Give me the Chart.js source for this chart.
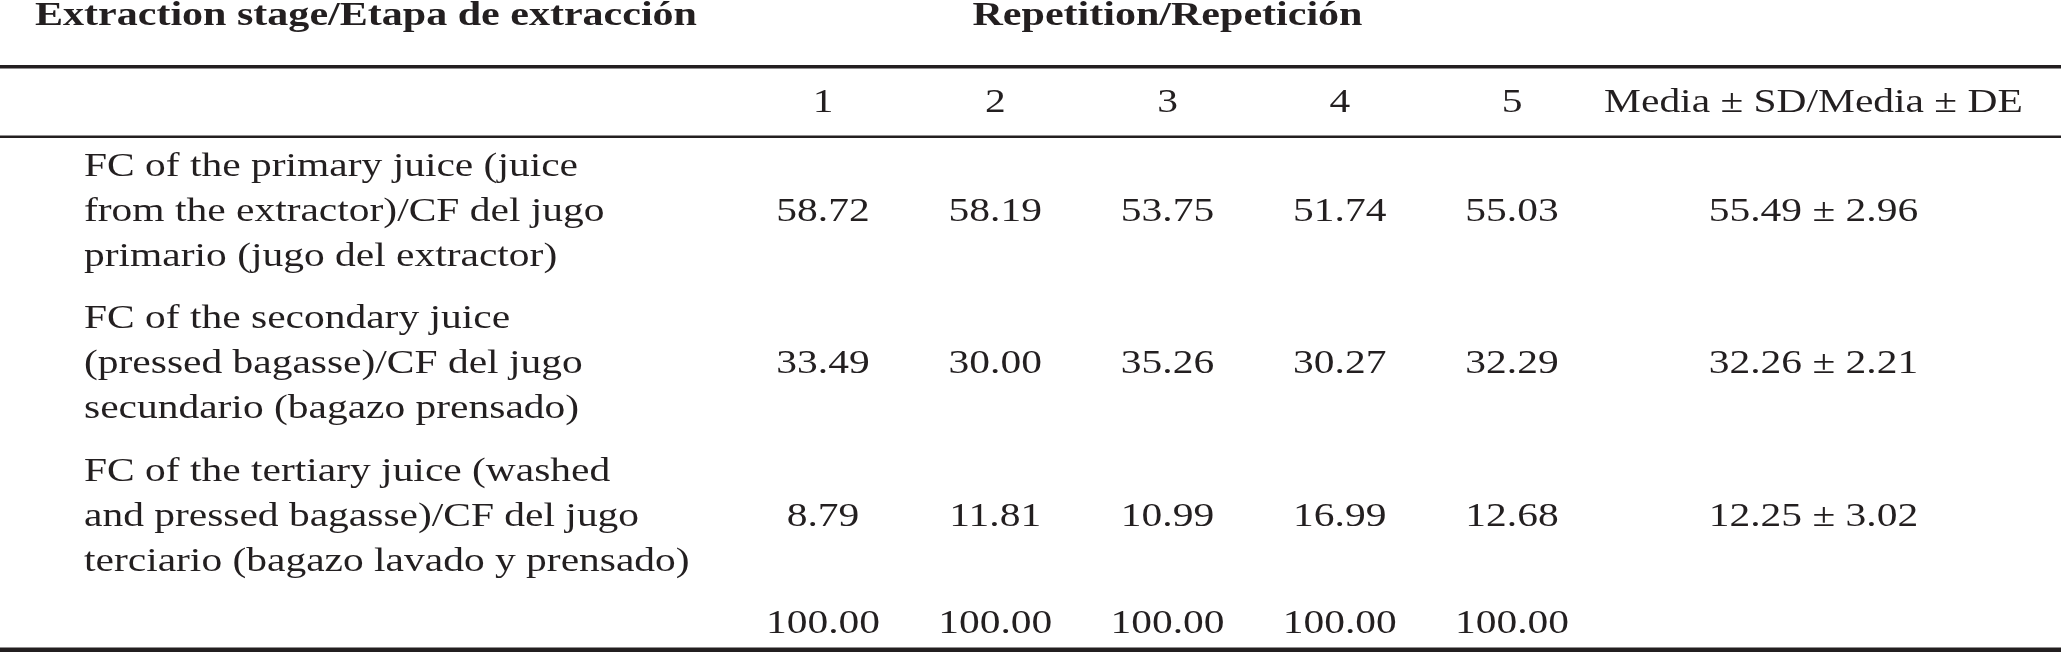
<!DOCTYPE html>
<html><head><meta charset="utf-8">
<script src="https://cdn.jsdelivr.net/npm/chart.js@4"></script>
<style>html,body{margin:0;padding:0;background:#fff;overflow:hidden}</style>
</head><body>
<canvas id="c" width="2061" height="659"></canvas>
<script>
const headerLeft = "Extraction stage/Etapa de extracción";
const headerGroup = "Repetition/Repetición";
const columns = ["1","2","3","4","5","Media ± SD/Media ± DE"];
const columnSlots = [1,2,3,4,5,6.75];
const rowLabels = [
  ["FC of the primary juice (juice","from the extractor)/CF del jugo","primario (jugo del extractor)"],
  ["FC of the secondary juice","(pressed bagasse)/CF del jugo","secundario (bagazo prensado)"],
  ["FC of the tertiary juice (washed","and pressed bagasse)/CF del jugo","terciario (bagazo lavado y prensado)"]
];
const primary = [58.72,58.19,53.75,51.74,55.03];
const secondary = [33.49,30.00,35.26,30.27,32.29];
const tertiary = [8.79,11.81,10.99,16.99,12.68];
const means = ["55.49 ± 2.96","32.26 ± 2.21","12.25 ± 3.02"];
const totals = [100.00,100.00,100.00,100.00,100.00];

const series = [primary, secondary, tertiary];
const rowY = [212, 364, 517];
const ink = "#231f20";

const tablePlugin = {
  id: 'table',
  afterDraw(chart) {
    const ctx = chart.ctx, xs = chart.scales.x;
    const W = chart.width;
    ctx.save();
    ctx.fillStyle = ink; ctx.strokeStyle = ink;
    const body = "33px 'Liberation Serif'";
    ctx.font = body;
    const sx = 494 / ctx.measureText(rowLabels[0][0]).width;
    function txt(s, x, y, align, font, scale) {
      ctx.save();
      ctx.font = font || body;
      ctx.textBaseline = 'middle';
      ctx.translate(x, y);
      ctx.scale(scale || sx, 1);
      ctx.textAlign = align;
      ctx.fillText(s, 0, 0);
      ctx.restore();
    }
    // rules
    ctx.fillRect(0, 65, W, 3.5);
    ctx.fillRect(0, 135.5, W, 2.5);
    ctx.fillRect(0, 647.5, W, 4.5);
    // header
    const hf = "bold 33px 'Liberation Serif'";
    ctx.font = hf;
    const hs = 662 / ctx.measureText(headerLeft).width;
    txt(headerLeft, 35, 16, 'left', hf, hs);
    txt(headerGroup, xs.getPixelForValue(3), 16, 'center', hf, hs);
    columns.forEach((c, i) => txt(c, xs.getPixelForValue(columnSlots[i]), 103, 'center'));
    series.forEach((vals, r) => {
      rowLabels[r].forEach((l, k) => txt(l, 84, rowY[r] + (k - 1) * 45, 'left'));
      vals.forEach((v, i) => txt(v.toFixed(2), xs.getPixelForValue(columnSlots[i]), rowY[r], 'center'));
      txt(means[r], xs.getPixelForValue(columnSlots[5]), rowY[r], 'center');
    });
    totals.forEach((v, i) => txt(v.toFixed(2), xs.getPixelForValue(columnSlots[i]), 624, 'center'));
    ctx.restore();
  }
};

new Chart(document.getElementById('c'), {
  type: 'scatter',
  data: { datasets: [] },
  options: {
    responsive: false, animation: false, devicePixelRatio: 1,
    layout: { padding: 0 },
    plugins: { legend: { display: false }, tooltip: { enabled: false } },
    scales: {
      x: { type: 'linear', display: false, min: -650.75 / 172.25, max: (2061 - 650.75) / 172.25 },
      y: { type: 'linear', display: false, min: 0, max: 1 }
    }
  },
  plugins: [tablePlugin]
});
</script>
</body></html>
